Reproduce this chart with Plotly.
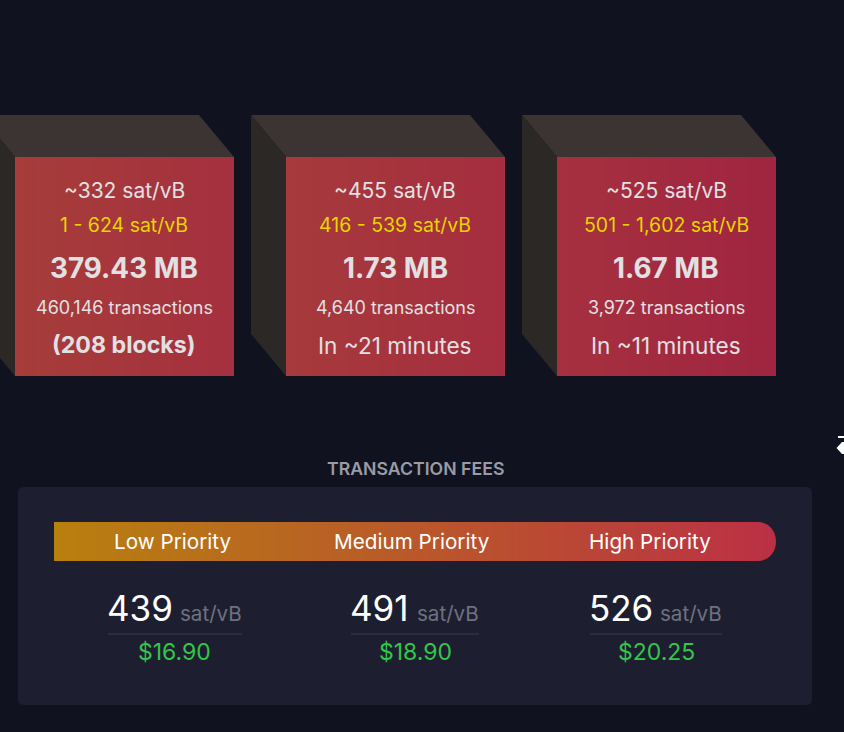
import plotly.graph_objects as go

# block texts
median_fee = ['~332 sat/vB', '~455 sat/vB', '~525 sat/vB']
fee_range = ['1 - 624 sat/vB', '416 - 539 sat/vB', '501 - 1,602 sat/vB']
block_size = ['379.43 MB', '1.73 MB', '1.67 MB']
tx_count = ['460,146 transactions', '4,640 transactions', '3,972 transactions']
eta = ['(208 blocks)', 'In ~21 minutes', 'In ~11 minutes']

# fee panel texts
priority = ['Low Priority', 'Medium Priority', 'High Priority']
sat_rate = ['439', '491', '526']
usd_fee = ['$16.90', '$18.90', '$20.25']

BG = '#10121f'
PANEL = '#1d1f31'
FONT = 'Inter'

block_x = [15, 286, 557]
block_left = ['#a63d3a', '#a63a3c', '#a6303f']
block_right = ['#a5303f', '#a52d3f', '#9f2540']
label_x = [173, 412, 650]
rate_x = [108, 351, 590]
rule_w = [134, 128, 132]
usd_x = [174.5, 415, 656]

fig = go.Figure()


def text(x, y, s, size, color, weight=400, anchor='center'):
    fig.add_annotation(x=x, y=y, text=s, showarrow=False, xanchor=anchor, yanchor='middle',
                       font=dict(family=FONT, size=size, color=color, weight=weight))


# gradient faces are thin heatmap stripes, x holds the cell edges
def gradient(x0, x1, y0, y1, left, right):
    n = int((x1 - x0) / 2)
    edges = [x0 + (x1 - x0) * k / n for k in range(n + 1)]
    fig.add_trace(go.Heatmap(x=edges, y=[y0, y1], z=[list(range(n))],
                             colorscale=[[0, left], [1, right]], showscale=False, hoverinfo='skip'))


for i in range(3):
    x = block_x[i]
    fig.add_shape(type='path', layer='below', line_width=0, fillcolor='#3c3432',
                  path=f'M {x-35} 115 L {x+184} 115 L {x+219} 157 L {x} 157 Z')
    fig.add_shape(type='path', layer='below', line_width=0, fillcolor='#2c2825',
                  path=f'M {x-35} 115 L {x} 157 L {x} 376 L {x-35} 334 Z')
    gradient(x, x + 219, 157, 376, block_left[i], block_right[i])
    cx = x + 109.5
    text(cx - 0.5, 190, median_fee[i], 21, '#e2e0e2')
    text(cx - 0.5, 224.5, fee_range[i], 19.5, '#e8d400')
    text(cx - 0.5, 268, block_size[i], 27.8, '#e2e0e2', 700)
    text(cx - 0.5, 307, tx_count[i], 18, '#e2e0e2')
    text(cx - 0.5, 345, eta[i], 23.2 if i == 0 else 22.6, '#e2e0e2', 700 if i == 0 else 400)

text(415.5, 468, 'TRANSACTION FEES', 17.7, '#9a9ba6', 600)

# panel with rounded corners
fig.add_shape(type='path', layer='below', line_width=0, fillcolor=PANEL,
              path='M 24 487 L 806 487 Q 812 487 812 493 L 812 699 Q 812 705 806 705 '
                   'L 24 705 Q 18 705 18 699 L 18 493 Q 18 487 24 487 Z')
gradient(54, 776, 522, 561, '#b8800f', '#bb3045')
# rounded right end of the priority bar
fig.add_shape(type='path', line_width=0, fillcolor=PANEL,
              path='M 758 522 C 768 522 776 530 776 541.5 C 776 553 768 561 758 561 '
                   'L 777 561 L 777 522 Z')

# cropped swap icon at the right edge
fig.add_shape(type='line', x0=838, x1=844, y0=437, y1=437, line=dict(color='#ffffff', width=2))
fig.add_shape(type='path', line_width=0, fillcolor='#ffffff',
              path='M 836.5 448 L 842 442 L 844 442 L 844 454 L 842 454 Z')

for i in range(3):
    text(label_x[i], 541, priority[i], 20.7, '#ffffff')
    text(rate_x[i] - 3, 608, sat_rate[i], 35, '#ffffff', anchor='left')
    text(rate_x[i] + rule_w[i] + 2, 613.5, 'sat/vB', 20.6, '#6f7080', anchor='right')
    fig.add_shape(type='line', x0=rate_x[i], x1=rate_x[i] + rule_w[i], y0=634, y1=634,
                  line=dict(color='#3a3c4e', width=1))
    text(usd_x[i], 652, usd_fee[i], 23, '#33c648')

fig.update_layout(width=844, height=732, margin=dict(l=0, r=0, t=0, b=0), showlegend=False,
                  paper_bgcolor=BG, plot_bgcolor=BG,
                  xaxis=dict(range=[0, 844], visible=False, fixedrange=True),
                  yaxis=dict(range=[732, 0], visible=False, fixedrange=True))

fig.write_html('out.html', include_plotlyjs=True, config={'displayModeBar': False},
               post_script="document.body.style.margin='0';document.body.style.background='#10121f';")
